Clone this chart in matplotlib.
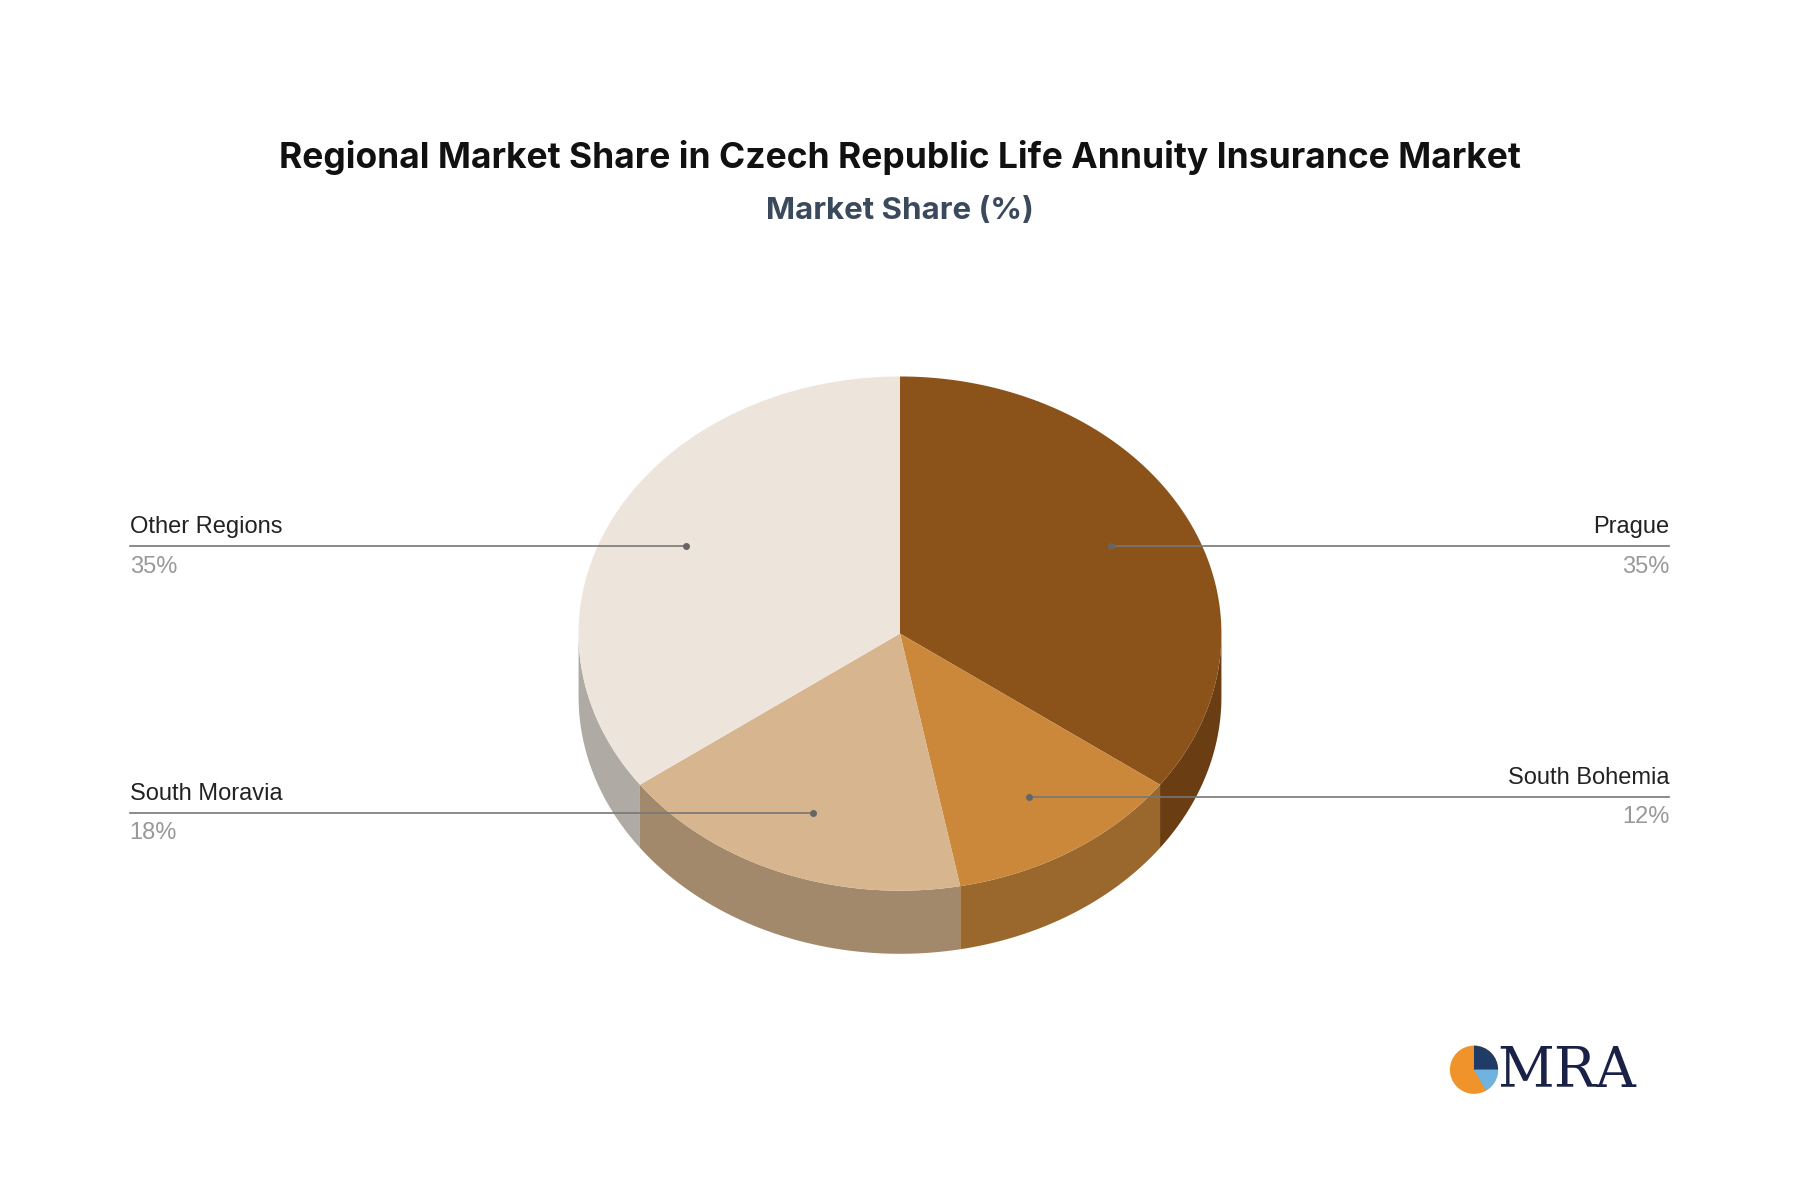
import numpy as np
import matplotlib.pyplot as plt
from matplotlib.patches import Polygon, Circle, Wedge

plt.rcParams['font.family'] = ['Inter', 'DejaVu Sans']

regions = ['Prague', 'South Bohemia', 'South Moravia', 'Other Regions']
shares = [35, 12, 18, 35]
top_colors = ['#8b5219', '#cb883b', '#d7b58e', '#ede4dc']
side_colors = ['#6a3d12', '#9a682d', '#a3896c', '#b0aaa5']

# layout in reference pixel space (1568 x 1042)
W, H = 1568, 1042
cx, cy, rx, ry, depth = 784, 552, 280, 224, 55

fig = plt.figure(figsize=(18, 11.96), dpi=100)
ax = fig.add_axes([0, 0, 1, 1])
ax.set_xlim(0, W)
ax.set_ylim(H, 0)
ax.axis('off')

def pt(t, dy=0):
    return cx + rx * np.cos(t), cy - ry * np.sin(t) + dy

# slice angles, clockwise from top
bounds = [90.0]
for s in shares:
    bounds.append(bounds[-1] - s * 3.6)

# side walls (visible where angle in [-180, 0])
for i in range(len(shares)):
    a0, a1 = bounds[i + 1], bounds[i]
    lo, hi = max(a0, -180), min(a1, 0)
    if lo < hi:
        t = np.radians(np.linspace(lo, hi, 80))
        top = [pt(v) for v in t]
        bot = [pt(v, depth) for v in t[::-1]]
        ax.add_patch(Polygon(top + bot, closed=True, fc=side_colors[i], ec='none', zorder=1))

# top faces
for i in range(len(shares)):
    a0, a1 = bounds[i + 1], bounds[i]
    t = np.radians(np.linspace(a1, a0, 150))
    pts = [(cx, cy)] + [pt(v) for v in t]
    ax.add_patch(Polygon(pts, closed=True, fc=top_colors[i], ec='none', zorder=2))

# labels
lab = {
    'Other Regions': (113, 476, 598, 'left'),
    'Prague': (1454, 476, 968, 'right'),
    'South Moravia': (113, 708, 708, 'left'),
    'South Bohemia': (1454, 694, 896, 'right'),
}
for name, s in zip(regions, shares):
    x, y, xd, ha = lab[name]
    ax.plot([x, xd], [y, y], color='#777777', lw=1.2, zorder=3)
    ax.plot([xd], [y], 'o', color='#666666', ms=4, zorder=4)
    ax.text(x, y - 7, name, ha=ha, va='bottom', fontsize=17, color='#222222',
            family='Liberation Sans')
    ax.text(x, y + 8, f'{s}%', ha=ha, va='top', fontsize=17, color='#999999',
            family='Liberation Sans')

ax.text(784, 137, 'Regional Market Share in Czech Republic Life Annuity Insurance Market',
        ha='center', va='center', fontsize=25.5, fontweight='bold', color='#111111')
ax.text(784, 184, 'Market Share (%)', ha='center', va='center', fontsize=22.5,
        fontweight='bold', color='#3a4a5c')

# logo
ax.add_patch(Circle((1284, 932), 21, fc='#f0932b', ec='none'))
ax.add_patch(Wedge((1284, 932), 21, -90, 0, fc='#1f3b66', ec='none'))
ax.add_patch(Wedge((1284, 932), 21, 0, 60, fc='#6fb3e0', ec='none'))
ax.text(1304, 934, 'MRA', ha='left', va='center', fontsize=40, family='DejaVu Serif',
        color='#1a2147')

fig.savefig('out.png', dpi=100, facecolor='white')
